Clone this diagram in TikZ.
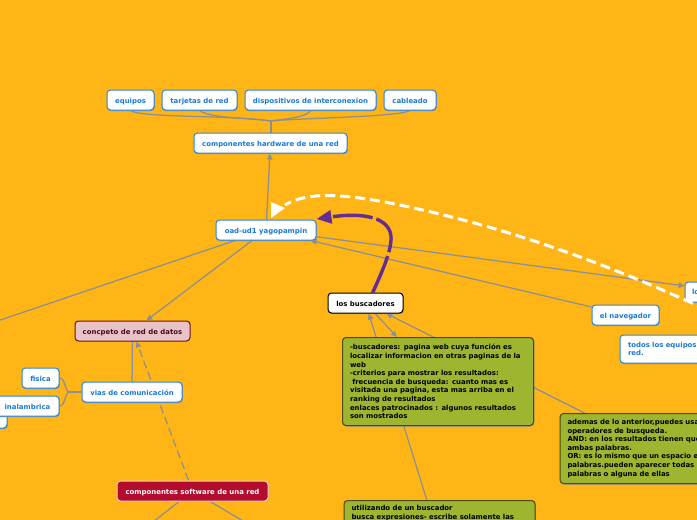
\documentclass[tikz,border=0pt]{standalone}
\usepackage{fontspec}
\setmainfont{DejaVu Sans}
\usetikzlibrary{arrows.meta}
\definecolor{bgor}{HTML}{FFB515}
\definecolor{edgegr}{HTML}{8C8F96}
\definecolor{bluetx}{HTML}{1A78D8}
\definecolor{blueln}{HTML}{2E86D6}
\definecolor{greenf}{HTML}{9DB52F}
\definecolor{greenl}{HTML}{4A4A12}
\definecolor{pinkf}{HTML}{E8C4C8}
\definecolor{pinkl}{HTML}{6B1020}
\definecolor{crim}{HTML}{B30C2E}
\definecolor{purp}{HTML}{642D91}
\pgfdeclarelayer{lines}
\pgfsetlayers{lines,main}
\tikzset{
  x=1pt,y=-1pt,
  base/.style={rounded corners=3.5pt,line width=1pt,font=\fontsize{6.93}{8.6}\selectfont\bfseries,inner sep=0pt,minimum height=20pt,text height=7pt,text depth=1pt},
  shade/.style={preaction={draw=edgegr,line width=1pt,transform canvas={shift={(0.4pt,-0.6pt)}}}},
  bluebox/.style={base,shade,draw=blueln,fill=white,text=bluetx},
  blackbox/.style={base,shade,draw=black,fill=white,text=black},
  pinkbox/.style={base,draw=pinkl,fill=pinkf,text=pinkl!70!black},
  redbox/.style={base,draw=white!80!crim,fill=crim,text=white},
  greenbox/.style={base,shade,draw=greenl,fill=greenf,text=black,align=left,anchor=north west,inner xsep=7.5pt,inner ysep=5pt,text height=,text depth=},
  multibox/.style={bluebox,align=left,text height=,text depth=},
  conn/.style={draw=edgegr,line width=1.25pt},
  arr/.style={conn,-{Triangle[length=6pt,width=5.5pt]}},
  stem/.style={draw=edgegr,line width=2pt},
  curve/.style={draw=edgegr,line width=1.25pt},
}
\begin{document}
\begin{tikzpicture}
\useasboundingbox (0,0) rectangle (697,520);
\clip (0,0) rectangle (697,520);
\begin{pgfonlayer}{lines}
\fill[bgor] (0,0) rectangle (697,520);
\end{pgfonlayer}

% nodes
\node[bluebox,minimum width=47pt] (eq) at (130.5,100) {equipos};
\node[bluebox,minimum width=75pt] (ta) at (199.5,100) {tarjetas de red};
\node[bluebox,minimum width=131pt] (di) at (310.5,100) {dispositivos de interconexion};
\node[bluebox,minimum width=52pt] (ca) at (410,100) {cableado};
\node[bluebox,minimum width=153pt] (hw) at (270.5,143) {componentes hardware de una red};
\node[bluebox,minimum width=100pt] (oad) at (266,230) {oad-ud1 yagopampin};
\node[blackbox,minimum width=75pt] (bus) at (365.5,303) {los buscadores};
\node[bluebox,minimum width=67pt] (nav) at (625.5,315) {el navegador};
\node[multibox,minimum width=90pt,text width=76pt] (lo) at (730,292) {lo};
\node[multibox,minimum width=220pt,minimum height=28pt,text width=204pt] (todos) at (730,349) {todos los equipos\\red.};
\node[pinkbox,minimum width=115pt] (red) at (132.5,331) {concpeto de red de datos};
\node[bluebox,minimum width=100pt] (vias) at (132,392) {vias de comunicación};
\node[bluebox,minimum width=37pt] (fis) at (40.5,378) {fisica};
\node[bluebox,minimum width=47pt] (ext) at (-16.5,418) {};
\node[bluebox,minimum width=63pt] (ina) at (27.5,406) {inalambrica};
\node[redbox,minimum width=151pt] (sw) at (192.5,491) {componentes software de una red};
\node[greenbox,minimum height=88pt,text width=176pt] (g1) at (342,337) {-buscadores: pagina web cuya función es\\localizar informacion en otras paginas de la\\web\\-criterios para mostrar los resultados:\\\ frecuencia de busqueda: cuanto mas es\\visitada una pagina, esta mas arriba en el\\ranking de resultados\\enlaces patrocinados : algunos resultados\\son mostrados};
\node[greenbox,minimum height=70pt,text width=175pt] (g2) at (559.5,413) {ademas de lo anterior,puedes usa\\operadores de busqueda.\\AND: en los resultados tienen que\\ambas palabras.\\OR: es lo mismo que un espacio e\\palabras.pueden aparecer todas l\\palabras o alguna de ellas};
\node[greenbox,minimum height=78pt,text width=176pt] (g3) at (343.5,500) {utilizando de un buscador\\busca expresiones- escribe solamente las\\[48pt]\mbox{}};

\coordinate (leftend) at (-100,354);
\coordinate (botl) at (130,540);
\coordinate (botr) at (275,540);
\coordinate (jtop) at (270.5,121);
\coordinate (jleft) at (70,392);
\coordinate (wstart) at (720,316);
\coordinate (wend) at (285,205);
\coordinate (wmid) at (400,205);

% connectors behind the nodes
\begin{pgfonlayer}{lines}
\draw[conn] (oad) -- (leftend);
\draw[arr] (oad) -- (hw);
\draw[arr] (oad) -- (red);
\draw[arr] (oad) -- (lo);
\draw[arr] (nav) -- (oad);
\draw[arr] (g3) -- (bus);
\draw[arr] (bus) -- (g1);
\draw[arr] (g2) -- (bus);
\draw[conn] (vias) -- (red);
\draw[arr,dash pattern=on 8pt off 4pt] (sw) -- (red);
\draw[conn] (sw) -- (botl);
\draw[conn] (sw) -- (botr);
\draw[stem] (jtop) -- (hw);
\draw[curve] (eq.south) .. controls (140,118) and (235,115) .. (jtop);
\draw[curve] (ta.south) .. controls (208,118) and (250,118) .. (jtop);
\draw[curve] (di.south) .. controls (308,117) and (285,119) .. (jtop);
\draw[curve] (ca.south) .. controls (400,117) and (300,118) .. (jtop);
\draw[stem] (jleft) -- (vias);
\draw[curve] (fis.east) .. controls (66,378) and (64,392) .. (jleft);
\draw[curve] (ina.east) .. controls (66,406) and (64,392) .. (jleft);
\end{pgfonlayer}

% relationship arrows above
\draw[draw=purp,line width=3.4pt,dash pattern=on 40pt off 4pt,-{Triangle[length=15pt,width=13pt]}]
  (bus) ++(7,-10) .. controls (382,272) and (392,250) .. (391,236) .. controls (389,218) and (365,212) .. (oad.east|-0,219);
\draw[draw=white,line width=3pt,dash pattern=on 10pt off 5pt] (wstart) .. controls (580,250) and (480,222) .. (wmid) .. controls (350,195) and (310,190) .. (wend);
\fill[white] (271,202) -- (285,208) -- (271,218) -- cycle;
\end{tikzpicture}
\end{document}
